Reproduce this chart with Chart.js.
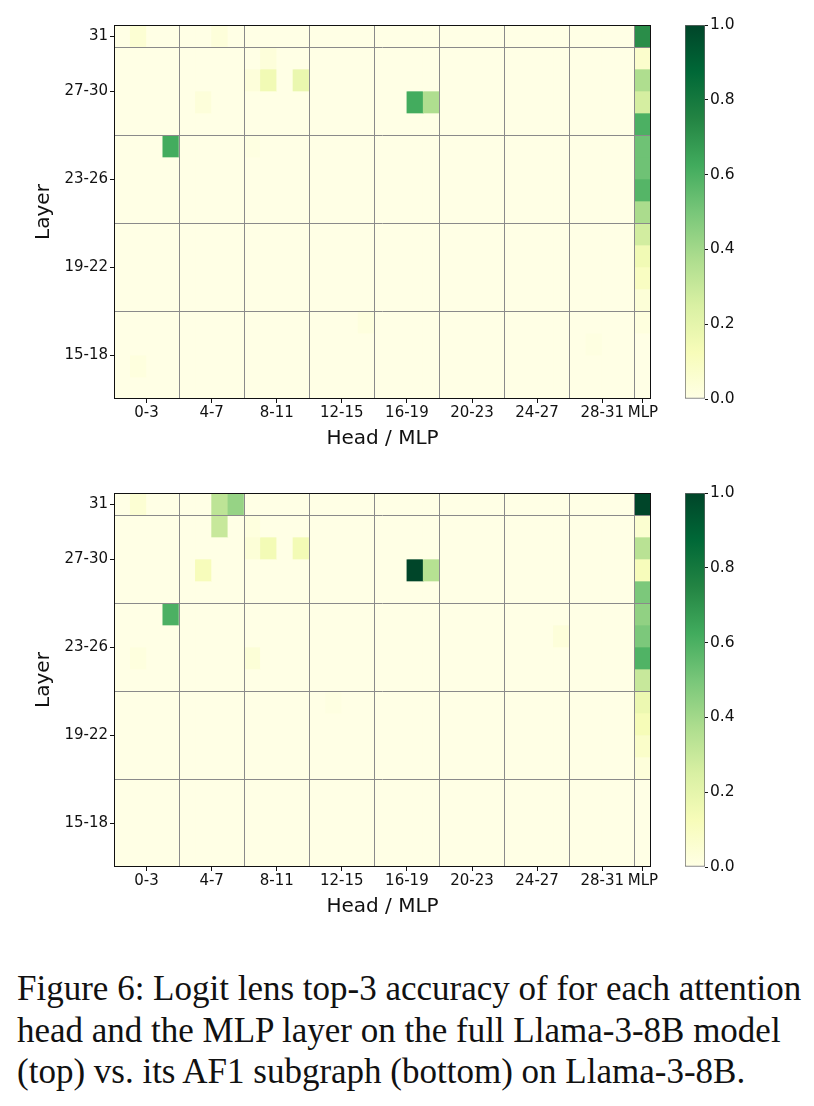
<!DOCTYPE html>
<html>
<head>
<meta charset="utf-8">
<script src="https://cdn.jsdelivr.net/npm/chart.js@4.4.1/dist/chart.umd.min.js"></script>
<style>
  body { margin: 0; background: #fff; width: 814px; height: 1106px; position: relative; overflow: hidden; }
  canvas { position: absolute; }
  #caption {
    position: absolute; left: 17px; top: 968px;
    font-family: "Liberation Serif", "Times New Roman", serif;
    font-size: 35px; line-height: 41.5px; color: #111; white-space: nowrap;
  }
</style>
</head>
<body>
<canvas id="topMap" width="660" height="460" style="left:0;top:0"></canvas>
<canvas id="topBar" width="154" height="460" style="left:660px;top:0"></canvas>
<canvas id="bottomMap" width="660" height="460" style="left:0;top:468px"></canvas>
<canvas id="bottomBar" width="154" height="460" style="left:660px;top:468px"></canvas>
<div id="caption">Figure 6: Logit lens top-3 accuracy of for each attention<br>head and the MLP layer on the full Llama-3-8B model<br>(top) vs. its AF1 subgraph (bottom) on Llama-3-8B.</div>

<script>
// columns: 32 heads then the MLP
const columns = ['0','1','2','3','4','5','6','7','8','9','10','11','12','13','14','15',
    '16','17','18','19','20','21','22','23','24','25','26','27','28','29','30','31','MLP'];
const layers = [31, 30, 29, 28, 27, 26, 25, 24, 23, 22, 21, 20, 19, 18, 17, 16, 15];

// head accuracy per layer (rows follow `layers`), full model
const topHeads = [
    [0,.05,0,0,0,0,.03,0,0,0,0,0,0,0,0,0,0,0,0,0,0,0,0,0,0,0,0,0,0,0,0,0],
    [0,0,0,0,0,0,0,0,0,.03,0,0,0,0,0,0,0,0,0,0,0,0,0,0,0,0,0,0,0,0,0,0],
    [0,0,0,0,0,0,0,0,.03,.15,0,.18,0,0,0,0,0,0,0,0,0,0,0,0,0,0,0,0,0,0,0,0],
    [0,0,0,0,0,.03,0,0,0,0,0,0,0,0,0,0,0,0,.62,.37,0,0,0,0,0,0,0,0,0,0,0,0],
    [0,0,0,0,0,0,0,0,0,0,0,0,0,0,0,0,0,0,0,0,0,0,0,0,0,0,0,0,0,0,0,0],
    [0,0,0,.62,0,0,0,0,.01,0,0,0,0,0,0,0,0,0,0,0,0,0,0,0,0,0,0,0,0,0,0,0],
    [0,0,0,0,0,0,0,0,0,0,0,0,0,0,0,0,0,0,0,0,0,0,0,0,0,0,0,0,0,0,0,0],
    [0,0,0,0,0,0,0,0,0,0,0,0,0,0,0,0,0,0,0,0,0,0,0,0,0,0,0,0,0,0,0,0],
    [0,0,0,0,0,0,0,0,0,0,0,0,0,0,0,0,0,0,0,0,0,0,0,0,0,0,0,0,0,0,0,0],
    [0,0,0,0,0,0,0,0,0,0,0,0,0,0,0,0,0,0,0,0,0,0,0,0,0,0,0,0,0,0,0,0],
    [0,0,0,0,0,0,0,0,0,0,0,0,0,0,0,0,0,0,0,0,0,0,0,0,0,0,0,0,0,0,0,0],
    [0,0,0,0,0,0,0,0,0,0,0,0,0,0,0,0,0,0,0,0,0,0,0,0,0,0,0,0,0,0,0,0],
    [0,0,0,0,0,0,0,0,0,0,0,0,0,0,0,0,0,0,0,0,0,0,0,0,0,0,0,0,0,0,0,0],
    [0,0,0,0,0,0,0,0,0,0,0,0,0,0,0,.02,0,0,0,0,0,0,0,0,0,0,0,0,0,0,0,0],
    [0,0,0,0,0,0,0,0,0,0,0,0,0,0,0,0,0,0,0,0,0,0,0,0,0,0,0,0,0,.01,0,0],
    [0,.02,0,0,0,0,0,0,0,0,0,0,0,0,0,0,0,0,0,0,0,0,0,0,0,0,0,0,0,0,0,0],
    [0,0,0,0,0,0,0,0,0,0,0,0,0,0,0,0,0,0,0,0,0,0,0,0,0,0,0,0,0,0,0,0]
];
const topMlp = [.72, .07, .37, .26, .60, .52, .52, .58, .38, .27, .15, .10, .04, .02, 0, 0, 0];

// AF1 subgraph
const bottomHeads = [
    [0,.05,0,0,0,0,.33,.43,0,0,0,0,0,0,0,0,0,0,0,0,0,0,0,0,0,0,0,0,0,0,0,0],
    [0,0,0,0,0,0,.30,0,.02,0,0,0,0,0,0,0,0,0,0,0,0,0,0,0,0,0,0,0,0,0,0,0],
    [0,0,0,0,0,0,0,0,.04,.14,0,.14,0,0,0,0,0,0,0,0,0,0,0,0,0,0,0,0,0,0,0,0],
    [0,0,0,0,0,.12,0,0,0,0,0,0,0,0,0,0,0,0,1.0,.35,0,0,0,0,0,0,0,0,0,0,0,0],
    [0,0,0,0,0,0,0,0,0,0,0,0,0,0,0,0,0,0,0,0,0,0,0,0,0,0,0,0,0,0,0,0],
    [0,0,0,.60,0,0,0,0,0,0,0,0,0,0,0,0,0,0,0,0,0,0,0,0,0,0,0,0,0,0,0,0],
    [0,0,0,0,0,0,0,0,0,0,0,0,0,0,0,0,0,0,0,0,0,0,0,0,0,0,0,.03,0,0,0,0],
    [0,.02,0,0,0,0,0,0,.04,0,0,0,0,0,0,0,0,0,0,0,0,0,0,0,0,0,0,0,0,0,0,0],
    [0,0,0,0,0,0,0,0,0,0,0,0,0,0,0,0,0,0,0,0,0,0,0,0,0,0,0,0,0,0,0,0],
    [0,0,0,0,0,0,0,0,0,0,0,0,0,.01,0,0,0,0,0,0,0,0,0,0,0,0,0,0,0,0,0,0],
    [0,0,0,0,0,0,0,0,0,0,0,0,0,0,0,0,0,0,0,0,0,0,0,0,0,0,0,0,0,0,0,0],
    [0,0,0,0,0,0,0,0,0,0,0,0,0,0,0,0,0,0,0,0,0,0,0,0,0,0,0,0,0,0,0,0],
    [0,0,0,0,0,0,0,0,0,0,0,0,0,0,0,0,0,0,0,0,0,0,0,0,0,0,0,0,0,0,0,0],
    [0,0,0,0,0,0,0,0,0,0,0,0,0,0,0,0,0,0,0,0,0,0,0,0,0,0,0,0,0,0,0,0],
    [0,0,0,0,0,0,0,0,0,0,0,0,0,0,0,0,0,0,0,0,0,0,0,0,0,0,0,0,0,0,0,0],
    [0,0,0,0,0,0,0,0,0,0,0,0,0,0,0,0,0,0,0,0,0,0,0,0,0,0,0,0,0,0,0,0],
    [0,0,0,0,0,0,0,0,0,0,0,0,0,0,0,0,0,0,0,0,0,0,0,0,0,0,0,0,0,0,0,0]
];
const bottomMlp = [1.0, .06, .34, .12, .49, .44, .49, .59, .30, .17, .13, .08, .03, 0, 0, 0, 0];

// axis ticks: label positions and group boundaries
const xTickLabels = {2: '0-3', 6: '4-7', 10: '8-11', 14: '12-15', 18: '16-19',
    22: '20-23', 26: '24-27', 30: '28-31', 32.5: 'MLP'};
const xGridLines = [4, 8, 12, 16, 20, 24, 28, 32];
const yTickLabels = {17: '15-18', 21: '19-22', 25: '23-26', 29: '27-30', 31.5: '31'};
const yGridLines = [19, 23, 27, 31];
const colorbarTicks = [0, 0.2, 0.4, 0.6, 0.8, 1.0];

// matplotlib YlGn
const ylgn = ['#ffffe5','#f7fcb9','#d9f0a3','#addd8e','#78c679','#41ab5d','#238443','#006837','#004529'];

function hexToRgb(h) {
    return [parseInt(h.slice(1, 3), 16), parseInt(h.slice(3, 5), 16), parseInt(h.slice(5, 7), 16)];
}

function colorFor(v) {
    const t = Math.max(0, Math.min(1, v)) * (ylgn.length - 1);
    const i = Math.min(Math.floor(t), ylgn.length - 2);
    const f = t - i;
    const a = hexToRgb(ylgn[i]), b = hexToRgb(ylgn[i + 1]);
    const c = a.map((x, k) => Math.round(x + (b[k] - x) * f));
    return `rgb(${c[0]},${c[1]},${c[2]})`;
}

const tickFont = {family: 'DejaVu Sans', size: 15};
const titleFont = {family: 'DejaVu Sans', size: 20};
const clear = 'rgba(0,0,0,0)';

// fills the plot area and draws the black frame round it
const framePlugin = {
    id: 'frame',
    beforeDatasetsDraw(chart) {
        const {ctx, chartArea: a} = chart;
        ctx.save();
        ctx.fillStyle = '#ffffe5';
        ctx.fillRect(a.left, a.top, a.right - a.left, a.bottom - a.top);
        ctx.restore();
    },
    afterDraw(chart) {
        const {ctx, chartArea: a} = chart;
        ctx.save();
        ctx.strokeStyle = '#111';
        ctx.lineWidth = 1;
        ctx.strokeRect(Math.round(a.left) + 0.5, Math.round(a.top) + 0.5,
            Math.round(a.right - a.left) - 1, Math.round(a.bottom - a.top) - 1);
        ctx.restore();
    }
};

const tickVal = c => (c && c.tick) ? c.tick.value : null;

function drawHeatmap(id, heads, mlp) {
    const datasets = layers.map((layer, r) => ({
        label: 'Layer ' + layer,
        data: columns.map(() => [layer, layer + 1]),
        backgroundColor: heads[r].concat(mlp[r]).map(colorFor),
        borderWidth: 0,
        grouped: false,
        barPercentage: 1,
        categoryPercentage: 1
    }));

    new Chart(document.getElementById(id), {
        type: 'bar',
        data: {labels: columns, datasets: datasets},
        plugins: [framePlugin],
        options: {
            responsive: false,
            animation: false,
            layout: {padding: {top: 25, right: 9, left: 0, bottom: 0}},
            plugins: {legend: {display: false}, tooltip: {enabled: false}},
            scales: {
                x: {display: false},
                xt: {
                    type: 'linear', position: 'bottom', min: 0, max: 33, offset: false,
                    afterBuildTicks: s => {
                        s.ticks = Object.keys(xTickLabels).map(Number).concat(xGridLines)
                            .sort((a, b) => a - b).map(v => ({value: v}));
                    },
                    afterFit: s => { s.height = 61; },
                    ticks: {
                        autoSkip: false, maxRotation: 0, minRotation: 0, padding: 1,
                        color: '#111', font: tickFont,
                        callback: v => xTickLabels[v] || ''
                    },
                    grid: {
                        z: 1, offset: false,
                        color: c => xGridLines.includes(tickVal(c)) ? '#8a8a8a' : clear,
                        tickColor: c => xTickLabels[tickVal(c)] ? '#111' : clear,
                        tickLength: 4, lineWidth: 1
                    },
                    border: {display: false},
                    title: {display: true, text: 'Head / MLP', color: '#111', font: titleFont,
                        padding: {top: 0, bottom: 9}}
                },
                y: {
                    type: 'linear', min: 15, max: 32,
                    afterBuildTicks: s => {
                        s.ticks = Object.keys(yTickLabels).map(Number).concat(yGridLines)
                            .sort((a, b) => a - b).map(v => ({value: v}));
                    },
                    afterFit: s => { s.width = 114; },
                    ticks: {
                        autoSkip: false, padding: 2, color: '#111', font: tickFont,
                        callback: v => yTickLabels[v] || ''
                    },
                    grid: {
                        z: 1,
                        color: c => yGridLines.includes(tickVal(c)) ? '#8a8a8a' : clear,
                        tickColor: c => yTickLabels[tickVal(c)] ? '#111' : clear,
                        tickLength: 4, lineWidth: 1
                    },
                    border: {display: false},
                    title: {display: true, text: 'Layer', color: '#111', font: titleFont,
                        padding: {top: 32, bottom: 0}}
                }
            }
        }
    });
}

function drawColorbar(id) {
    new Chart(document.getElementById(id), {
        type: 'bar',
        data: {
            labels: [''],
            datasets: [{
                data: [[colorbarTicks[0], colorbarTicks[colorbarTicks.length - 1]]],
                backgroundColor: c => {
                    const a = c.chart.chartArea;
                    if (!a) return ylgn[0];
                    const g = c.chart.ctx.createLinearGradient(0, a.bottom, 0, a.top);
                    ylgn.forEach((col, i) => g.addColorStop(i / (ylgn.length - 1), col));
                    return g;
                },
                borderColor: '#666',
                borderWidth: 1,
                borderSkipped: false,
                barPercentage: 1,
                categoryPercentage: 1
            }]
        },
        options: {
            responsive: false,
            animation: false,
            layout: {padding: {top: 25, left: 25, right: 0, bottom: 61}},
            plugins: {legend: {display: false}, tooltip: {enabled: false}},
            scales: {
                x: {display: false},
                y: {
                    position: 'right', min: 0, max: 1,
                    afterBuildTicks: s => { s.ticks = colorbarTicks.map(v => ({value: v})); },
                    afterFit: s => { s.width = 109; },
                    ticks: {padding: 2, color: '#111', font: {family: 'DejaVu Sans', size: 15.5},
                        callback: v => Number(v).toFixed(1)},
                    grid: {drawOnChartArea: false, tickLength: 3, tickColor: '#111'},
                    border: {display: false}
                }
            }
        }
    });
}

drawHeatmap('topMap', topHeads, topMlp);
drawColorbar('topBar');
drawHeatmap('bottomMap', bottomHeads, bottomMlp);
drawColorbar('bottomBar');
</script>
</body>
</html>
